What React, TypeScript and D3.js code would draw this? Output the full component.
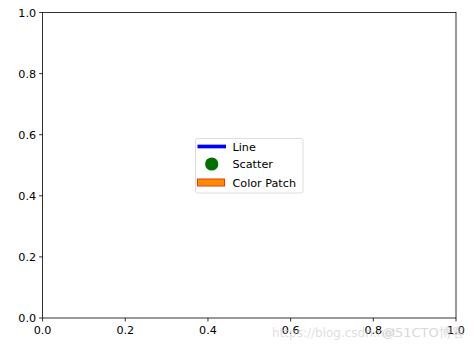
import React from "react";
import * as d3 from "d3";

const xTicks = [0, 0.2, 0.4, 0.6, 0.8, 1.0];
const yTicks = [0, 0.2, 0.4, 0.6, 0.8, 1.0];
const legendLabels = ["Line", "Scatter", "Color Patch"];
const legendColors = ["#0000ff", "#007000", "#ff8c00"];
const patchEdge = "#e8381a";

const W = 474, H = 349;
const M = { left: 42.6, right: 456, top: 12.5, bottom: 318 };
const FONT = "'DejaVu Sans', sans-serif";
const FS = 11.2;

export default function App() {
  const x = d3.scaleLinear().domain([0, 1]).range([M.left, M.right]);
  const y = d3.scaleLinear().domain([0, 1]).range([M.bottom, M.top]);
  const fmt = d3.format(".1f");
  const lx = 195.5, ly = 138.5, lw = 107.5, lh = 54.5;
  const rowY = [146.5, 164, 182.5];
  return (
    <div style={{ position: "absolute", left: 0, top: 0 }}>
      <svg width={W} height={H} style={{ display: "block", background: "#fff" }}>
        <rect x={M.left} y={M.top} width={M.right - M.left} height={M.bottom - M.top} fill="none" stroke="#000" strokeWidth={0.8} />
        {xTicks.map((t) => (
          <g key={"x" + t}>
            <line x1={x(t)} x2={x(t)} y1={M.bottom} y2={M.bottom + 3.5} stroke="#000" strokeWidth={0.8} />
            <text x={x(t)} y={M.bottom + 15.5} textAnchor="middle" fontFamily={FONT} fontSize={FS} fill="#000">{fmt(t)}</text>
          </g>
        ))}
        {yTicks.map((t) => (
          <g key={"y" + t}>
            <line x1={M.left - 3.5} x2={M.left} y1={y(t)} y2={y(t)} stroke="#000" strokeWidth={0.8} />
            <text x={M.left - 6.5} y={y(t) + 4} textAnchor="end" fontFamily={FONT} fontSize={FS} fill="#000">{fmt(t)}</text>
          </g>
        ))}
        <rect x={lx} y={ly} width={lw} height={lh} rx={2} fill="#fff" fillOpacity={0.8} stroke="#d6d6d6" strokeWidth={0.8} />
        <line x1={197.5} x2={226} y1={rowY[0]} y2={rowY[0]} stroke={legendColors[0]} strokeWidth={3.7} />
        <circle cx={211.7} cy={rowY[1]} r={6.6} fill={legendColors[1]} />
        <rect x={197.5} y={rowY[2] - 3.5} width={27} height={7} fill={legendColors[2]} stroke={patchEdge} strokeWidth={1} />
        {legendLabels.map((l, i) => (
          <text key={l} x={232.5} y={rowY[i] + 4} fontFamily={FONT} fontSize={FS} fill="#000">{l}</text>
        ))}
        <text x={272} y={337} fontFamily={FONT} fontSize={12} fill="#c8c8c8" fillOpacity={0.6}>https://blog.csdn.net</text>
        <text x={382} y={337} fontFamily={FONT} fontSize={13} fill="#c8c8c8" fillOpacity={0.7}>@51CTO博客</text>
      </svg>
    </div>
  );
}
